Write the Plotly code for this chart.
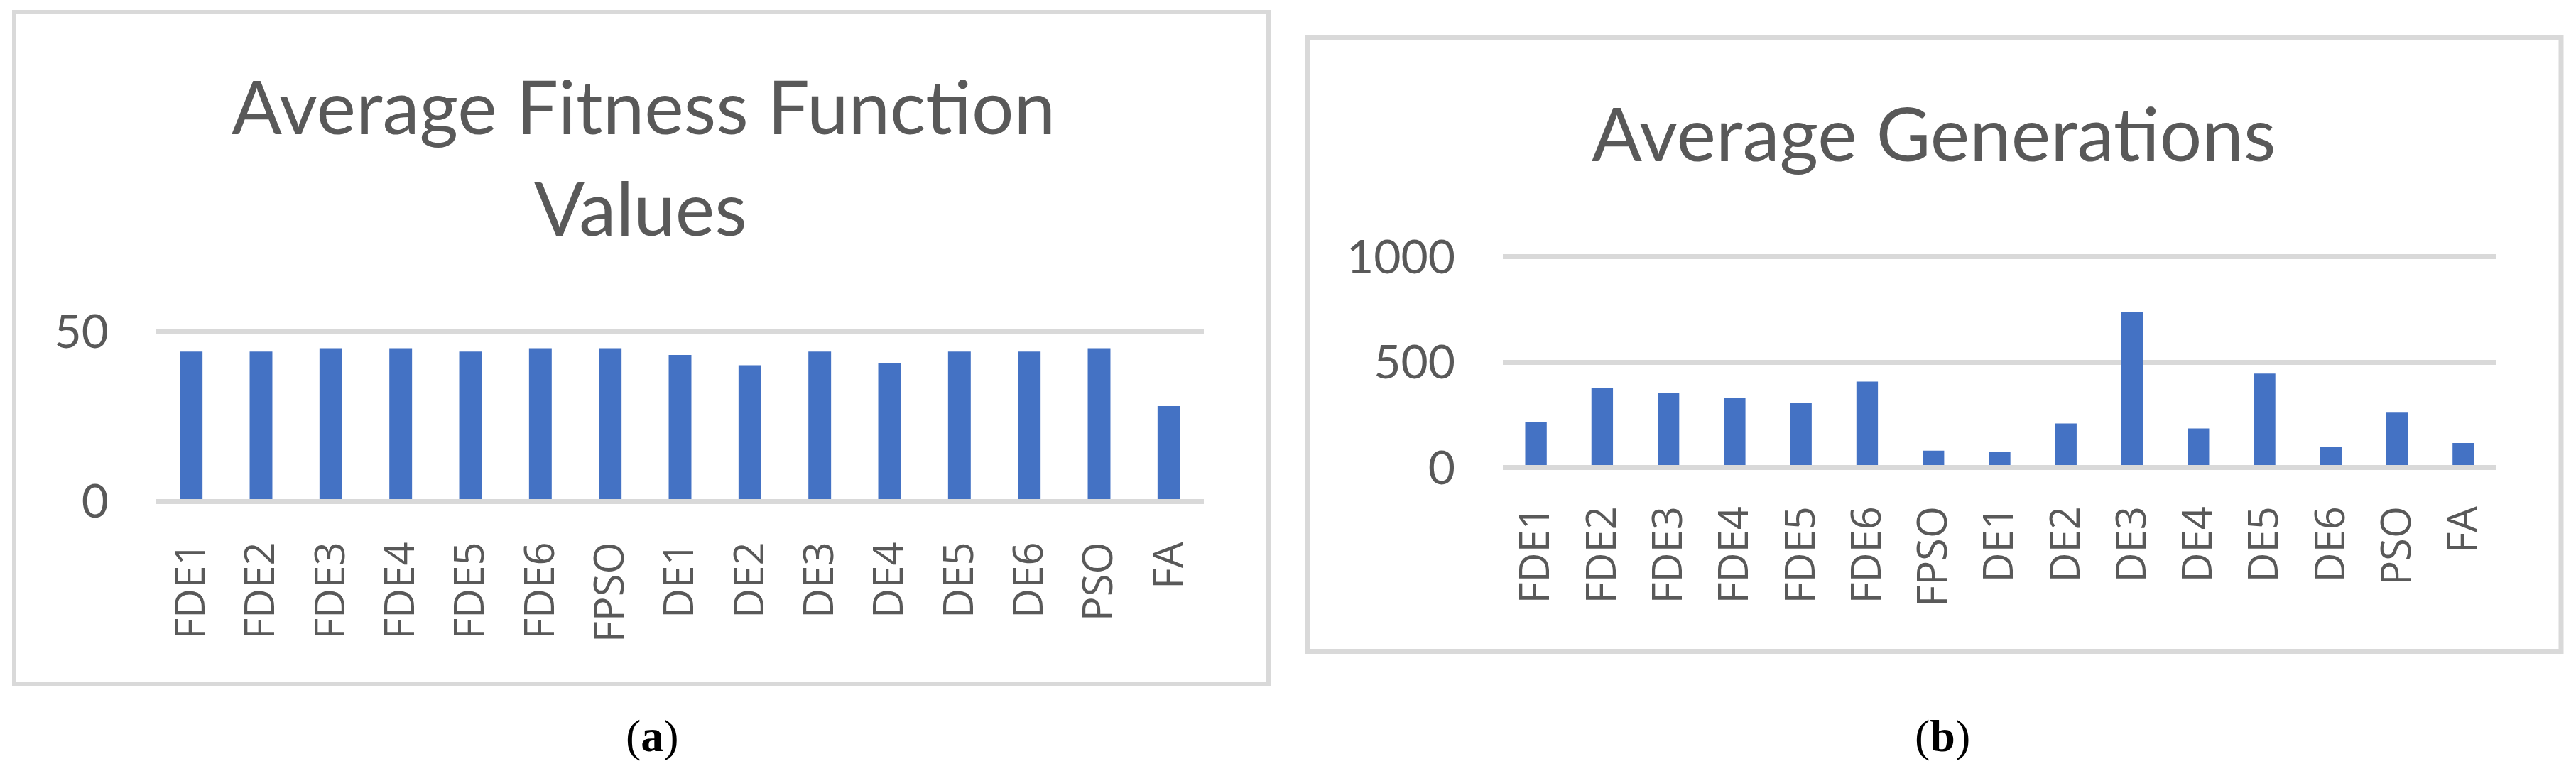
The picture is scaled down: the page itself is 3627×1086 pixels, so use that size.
import plotly.graph_objects as go

W, H = 3627, 1086

categories = ["FDE1", "FDE2", "FDE3", "FDE4", "FDE5", "FDE6", "FPSO",
              "DE1", "DE2", "DE3", "DE4", "DE5", "DE6", "PSO", "FA"]
fitness_values = [44, 44, 45, 45, 44, 45, 45, 43, 40, 44, 40.5, 44, 44, 45, 28]
generation_values = [214, 379, 352, 332, 308, 407, 80, 73, 209, 737, 185, 445, 96, 260, 116]

title_a_line1 = "Average Fitness Function"
title_a_line2 = "Values"
title_b = "Average Generations"
caption_a = "(<b>a</b>)"
caption_b = "(<b>b</b>)"

BAR = "#4472C4"
GRID = "#D9D9D9"
TXT = "#595959"
TITLE_FONT = "Lato"
TICK_FONT = "Lato"
CAT_FONT = "Open Sans"


def px_x(p):
    return p / W


def px_y(p):
    return 1 - p / H


fig = go.Figure()

fig.add_trace(go.Bar(x=categories, y=fitness_values, marker=dict(color=BAR, line=dict(width=0)),
                     xaxis="x", yaxis="y", showlegend=False))
fig.add_trace(go.Bar(x=categories, y=generation_values, marker=dict(color=BAR, line=dict(width=0)),
                     xaxis="x2", yaxis="y2", showlegend=False))

axis_common = dict(showline=False, ticks="", fixedrange=True, automargin=False)

fig.update_layout(
    width=W, height=H, autosize=False,
    margin=dict(l=0, r=0, t=0, b=0, pad=0, autoexpand=False),
    paper_bgcolor="white", plot_bgcolor="rgba(0,0,0,0)",
    bargap=0.675,
    xaxis=dict(domain=[px_x(220), px_x(1695)], anchor="y", showgrid=False, zeroline=False,
               tickangle=-90, tickfont=dict(family=CAT_FONT, size=58, color=TXT),
               ticklabelstandoff=40, **axis_common),
    yaxis=dict(domain=[px_y(710.8), px_y(461.7)], anchor="x", range=[-1, 51],
               tickvals=[0, 50], showgrid=True, gridcolor=GRID, gridwidth=7,
               zeroline=True, zerolinecolor=GRID, zerolinewidth=7,
               tickfont=dict(family=TICK_FONT, size=66, color=TXT),
               ticklabelstandoff=66, **axis_common),
    xaxis2=dict(domain=[px_x(2116), px_x(3515)], anchor="y2", showgrid=False, zeroline=False,
                tickangle=-90, tickfont=dict(family=CAT_FONT, size=58, color=TXT),
                ticklabelstandoff=36, **axis_common),
    yaxis2=dict(domain=[px_y(664.4), px_y(355.6)], anchor="x2", range=[-20, 1020],
                tickvals=[0, 500, 1000], showgrid=True, gridcolor=GRID, gridwidth=7,
                zeroline=True, zerolinecolor=GRID, zerolinewidth=7,
                tickfont=dict(family=TICK_FONT, size=66, color=TXT),
                ticklabelstandoff=66, **axis_common),
)

# draw the zero baseline over the bars, as in the original (if supported)
try:
    fig.update_yaxes(zerolinelayer="above traces")
except Exception:
    pass

# panel frames
fig.add_shape(type="rect", xref="paper", yref="paper",
              x0=px_x(20), x1=px_x(1786), y0=px_y(963), y1=px_y(17),
              line=dict(color=GRID, width=6), fillcolor="rgba(0,0,0,0)", layer="below")
fig.add_shape(type="rect", xref="paper", yref="paper",
              x0=px_x(1841), x1=px_x(3606), y0=px_y(917.5), y1=px_y(52.5),
              line=dict(color=GRID, width=7), fillcolor="rgba(0,0,0,0)", layer="below")

# titles
fig.add_annotation(text=title_a_line1, xref="paper", yref="paper", x=px_x(906), y=px_y(148),
                   xanchor="center", yanchor="middle", showarrow=False,
                   font=dict(family=TITLE_FONT, size=105, color=TXT))
fig.add_annotation(text=title_a_line2, xref="paper", yref="paper", x=px_x(902), y=px_y(291),
                   xanchor="center", yanchor="middle", showarrow=False,
                   font=dict(family=TITLE_FONT, size=105, color=TXT))
fig.add_annotation(text=title_b, xref="paper", yref="paper", x=px_x(2722), y=px_y(186),
                   xanchor="center", yanchor="middle", showarrow=False,
                   font=dict(family=TITLE_FONT, size=105, color=TXT))

# captions
fig.add_annotation(text=caption_a, xref="paper", yref="paper", x=px_x(918), y=px_y(1036),
                   xanchor="center", yanchor="middle", showarrow=False,
                   font=dict(family="Liberation Serif", size=64, color="black"))
fig.add_annotation(text=caption_b, xref="paper", yref="paper", x=px_x(2735), y=px_y(1036),
                   xanchor="center", yanchor="middle", showarrow=False,
                   font=dict(family="Liberation Serif", size=64, color="black"))

fig.write_html(
    "out.html",
    config={"responsive": False, "displayModeBar": False},
    post_script="document.body.style.margin='0';document.body.style.overflow='hidden';",
)
